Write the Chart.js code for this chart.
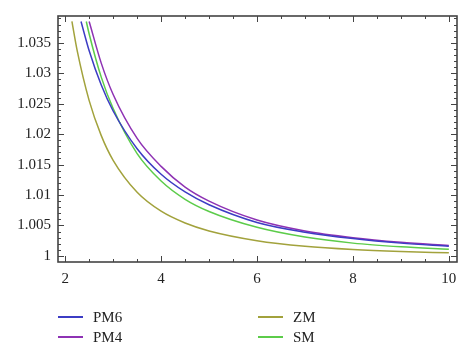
<!DOCTYPE html>
<html>
<head>
<meta charset="utf-8">
<script src="https://cdn.jsdelivr.net/npm/chart.js@4/dist/chart.umd.min.js"></script>
<style>
  html, body { margin: 0; padding: 0; background: #fff; }
  #wrap { position: relative; width: 474px; height: 363px; }
  #legend { position: absolute; left: 0; top: 0; width: 474px; height: 363px; pointer-events: none;
            font-family: "Liberation Serif", "DejaVu Serif", serif; font-size: 15px; color: #222; }
  .item { position: absolute; width: 120px; height: 18px; line-height: 18px; white-space: nowrap; }
  .swatch { position: absolute; left: 0; top: 8px; width: 25px; height: 2px; }
  .lab { position: absolute; left: 35px; top: 0; }
</style>
</head>
<body>
<div id="wrap">
  <canvas id="c" width="474" height="363"></canvas>
  <div id="legend"></div>
</div>
<script>
// ---- data ----
const seriesNames = ["PM6", "PM4", "ZM", "SM"];
const seriesColors = ["#3c3cc4", "#8e32b4", "#a2a23c", "#5ccc4a"];

const xPM6 = [2.33, 2.5, 2.75, 3, 3.5, 4, 4.5, 5, 6, 7, 8, 9, 10];
const yPM6 = [1.0385, 1.0337, 1.0281, 1.0238, 1.0176, 1.0134, 1.0105, 1.0084, 1.0055, 1.0039, 1.00285, 1.0021, 1.0016];

const xPM4 = [2.5, 2.75, 3, 3.5, 4, 4.5, 5, 6, 7, 8, 9, 10];
const yPM4 = [1.0385, 1.0317, 1.0265, 1.0193, 1.0147, 1.0113, 1.0090, 1.0059, 1.0041, 1.0030, 1.00225, 1.00172];

const xZM = [2.14, 2.25, 2.5, 2.75, 3, 3.5, 4, 4.5, 5, 6, 7, 8, 9, 10];
const yZM = [1.0385, 1.0337, 1.0255, 1.0198, 1.0157, 1.01045, 1.00734, 1.0054, 1.0041, 1.0025, 1.00158, 1.00105, 1.00072, 1.0005];

const xSM = [2.44, 2.5, 2.75, 3, 3.5, 4, 4.5, 5, 6, 7, 8, 9, 10];
const ySM = [1.0385, 1.03645, 1.0294, 1.0242, 1.0168, 1.0123, 1.0093, 1.0073, 1.0047, 1.0031, 1.0021, 1.0015, 1.0011];

const xTicks = [2, 4, 6, 8, 10];
const yTicks = [1, 1.005, 1.01, 1.015, 1.02, 1.025, 1.03, 1.035];
const yTickLabels = ["1", "1.005", "1.01", "1.015", "1.02", "1.025", "1.03", "1.035"];

// ---- build ----
function pts(xs, ys) { return xs.map((x, i) => ({ x: x, y: ys[i] })); }
const allX = [xPM6, xPM4, xZM, xSM];
const allY = [yPM6, yPM4, yZM, ySM];

const datasets = seriesNames.map((n, i) => ({
  label: n,
  data: pts(allX[i], allY[i]),
  borderColor: seriesColors[i],
  backgroundColor: seriesColors[i],
  borderWidth: 1.5,
  pointRadius: 0,
  fill: false,
  cubicInterpolationMode: 'monotone'
}));

const FONT = { family: '"Liberation Serif", "DejaVu Serif", serif', size: 15 };

const framePlugin = {
  id: 'frame',
  afterDatasetsDraw(chart) {
    const ctx = chart.ctx, a = chart.chartArea;
    const xs = chart.scales.x, ys = chart.scales.y;
    ctx.save();
    ctx.strokeStyle = '#444';
    ctx.lineWidth = 1.6;
    ctx.strokeRect(a.left, a.top, a.right - a.left, a.bottom - a.top);
    ctx.lineWidth = 1;
    ctx.beginPath();
    for (let k = 4; k <= 20; k++) {
      const v = k / 2;
      const p = Math.round(xs.getPixelForValue(v)) + 0.5;
      const len = (k % 4 === 0) ? 6 : 3;
      ctx.moveTo(p, a.bottom); ctx.lineTo(p, a.bottom - len);
      ctx.moveTo(p, a.top); ctx.lineTo(p, a.top + len);
    }
    for (let k = 0; k <= 39; k++) {
      const v = 1 + k / 1000;
      const p = Math.round(ys.getPixelForValue(v)) + 0.5;
      const len = (k % 5 === 0) ? 6 : 3;
      ctx.moveTo(a.left, p); ctx.lineTo(a.left + len, p);
      ctx.moveTo(a.right, p); ctx.lineTo(a.right - len, p);
    }
    ctx.stroke();
    ctx.restore();
  }
};

const chart = new Chart(document.getElementById('c'), {
  type: 'line',
  data: { datasets: datasets },
  options: {
    responsive: false,
    animation: false,
    layout: { padding: { left: 0, right: 17, top: 16, bottom: 0 } },
    plugins: { legend: { display: false }, tooltip: { enabled: false } },
    scales: {
      x: {
        type: 'linear', min: 1.85, max: 10.17,
        afterBuildTicks: (s) => { s.ticks = xTicks.map(v => ({ value: v })); },
        afterFit: (s) => { s.height = 101; },
        grid: { display: false, drawTicks: false },
        border: { display: false },
        ticks: { color: '#222', font: FONT, padding: 8, maxRotation: 0, autoSkip: false,
                 callback: (v) => String(v) }
      },
      y: {
        type: 'linear', min: 0.999, max: 1.0394,
        afterBuildTicks: (s) => { s.ticks = yTicks.map(v => ({ value: v })); },
        afterFit: (s) => { s.width = 58; },
        grid: { display: false, drawTicks: false },
        border: { display: false },
        ticks: { color: '#222', font: FONT, padding: 7, autoSkip: false,
                 callback: (v) => { const i = yTicks.findIndex(t => Math.abs(t - v) < 1e-9); return i >= 0 ? yTickLabels[i] : ''; } }
      }
    }
  },
  plugins: [framePlugin]
});

// ---- HTML legend (two columns: PM6/PM4, ZM/SM) ----
const legendPos = [[58, 308], [58, 328], [258, 308], [258, 328]];
const lg = document.getElementById('legend');
chart.data.datasets.forEach((d, i) => {
  const it = document.createElement('div');
  it.className = 'item';
  it.style.left = legendPos[i][0] + 'px';
  it.style.top = legendPos[i][1] + 'px';
  const sw = document.createElement('div');
  sw.className = 'swatch';
  sw.style.backgroundColor = d.borderColor;
  const lb = document.createElement('div');
  lb.className = 'lab';
  lb.textContent = d.label;
  it.appendChild(sw); it.appendChild(lb);
  lg.appendChild(it);
});
</script>
</body>
</html>
